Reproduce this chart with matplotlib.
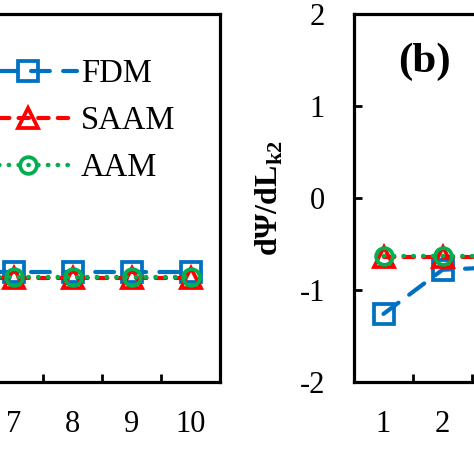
import matplotlib
matplotlib.use("Agg")
from matplotlib import pyplot

# Data

steps = [1, 2, 3, 4, 5, 6, 7, 8, 9, 10]
stepLabels = ["1", "2", "3", "4", "5", "6", "7", "8", "9", "10"]

fdmA = [-0.80, -0.80, -0.80, -0.80, -0.80, -0.80, -0.80, -0.80, -0.80, -0.80]
saamA = [-0.87, -0.87, -0.87, -0.87, -0.87, -0.87, -0.87, -0.87, -0.87, -0.87]
aamA = [-0.86, -0.86, -0.86, -0.86, -0.86, -0.86, -0.86, -0.86, -0.86, -0.86]

fdmB = [-1.26, -0.78, -0.75, -0.75, -0.75, -0.75, -0.75, -0.75, -0.75, -0.75]
saamB = [-0.64, -0.64, -0.64, -0.64, -0.64, -0.64, -0.64, -0.64, -0.64, -0.64]
aamB = [-0.63, -0.63, -0.63, -0.63, -0.63, -0.63, -0.63, -0.63, -0.63, -0.63]

yTicks = [-2, -1, 0, 1, 2]
yTickLabels = ["-2", "-1", "0", "1", "2"]

# Styles

pyplot.rcParams["font.family"] = "Liberation Serif"
pyplot.rcParams["axes.unicode_minus"] = False
pyplot.rcParams["mathtext.fontset"] = "custom"
pyplot.rcParams["mathtext.rm"] = "Liberation Serif"
pyplot.rcParams["mathtext.bf"] = "Liberation Serif:bold"

blue = "#0070C0"
red = "#FF0000"
green = "#00B050"
fontSize = 22
spineWidth = 2.3

def plotSeries(ax, fdm, saam, aam):

    ax.plot(steps, fdm, color = blue, linewidth = 3, linestyle = (0, (4.5, 3.2)),
            dash_capstyle = "round", marker = "s", markersize = 14, markeredgewidth = 2.7,
            markerfacecolor = "none", markeredgecolor = blue, label = "FDM")
    ax.plot(steps, saam, color = red, linewidth = 3, linestyle = (0, (2.5, 2.2)),
            dash_capstyle = "round", marker = "^", markersize = 14, markeredgewidth = 2.7,
            markerfacecolor = "none", markeredgecolor = red, label = "SAAM")
    ax.plot(steps, aam, color = green, linewidth = 3.2, linestyle = (0, (0.1, 2.1)),
            dash_capstyle = "round", marker = "o", markersize = 12, markeredgewidth = 2.7,
            markerfacecolor = "none", markeredgecolor = green, label = "AAM")

def styleAxes(ax):

    ax.set_xlim(0.5, 10.5)
    ax.set_ylim(-2, 2)
    ax.set_xticks(steps)
    ax.set_xticklabels(stepLabels)
    ax.set_xticks([s + 0.5 for s in steps[:-1]], minor = True)
    ax.tick_params(axis = "x", which = "major", length = 0, pad = 20, labelsize = fontSize)
    ax.tick_params(axis = "x", which = "minor", direction = "in", length = 6, width = 2)
    ax.set_yticks(yTicks)
    ax.set_yticklabels(yTickLabels)
    ax.tick_params(axis = "y", direction = "in", length = 6, width = 2, labelsize = fontSize, pad = 21)
    for spine in ax.spines.values():
        spine.set_linewidth(spineWidth)
        spine.set_color("black")

fig = pyplot.figure(figsize = (4.74, 4.74), dpi = 100)

# (a) - mostly outside the crop

axA = fig.add_axes([-370 / 474, 92 / 474, 590 / 474, 368 / 474])
plotSeries(axA, fdmA, saamA, aamA)
styleAxes(axA)

axA.legend(loc = "upper left", bbox_to_anchor = (-21 / 474, 1 - 59 / 474),
           bbox_transform = fig.transFigure, frameon = False, borderpad = 0,
           borderaxespad = 0, handlelength = 3.0, handletextpad = 0.12,
           labelspacing = 0.5, numpoints = 1, fontsize = 23.5)

# (b)

axB = fig.add_axes([354 / 474, 92 / 474, 590 / 474, 368 / 474])
plotSeries(axB, fdmB, saamB, aamB)
styleAxes(axB)
axB.set_ylabel(r"dΨ/dL$_{\mathbf{k2}}$", fontsize = 23, fontweight = "bold")
axB.yaxis.set_label_coords(-0.117, 0.5)
axB.text(0.12, 0.87, "(b)", transform = axB.transAxes, fontsize = 31,
         fontweight = "bold", ha = "center", va = "center")

fig.savefig("out.png", dpi = 100)
pyplot.close(fig)
